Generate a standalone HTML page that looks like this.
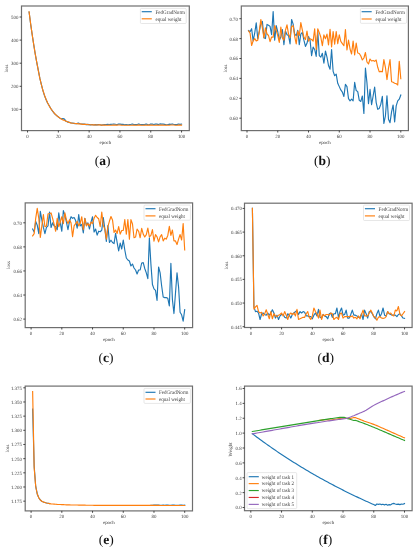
<!DOCTYPE html>
<html><head><meta charset="utf-8"><title>Figure</title>
<style>
html,body{margin:0;padding:0;background:#fff;width:417px;height:550px;overflow:hidden}
svg{display:block;text-rendering:geometricPrecision;filter:blur(0.3px)}
.cap{fill:#111}
</style></head><body>
<svg width="417" height="550" viewBox="0 0 417 550">
<rect width="417" height="550" fill="#fff"/>
<g font-family='"Liberation Serif", "DejaVu Serif", serif' fill="#3c3c3c">
<clipPath id="clipa"><rect x="21.5" y="6" width="167.8" height="124.6"/></clipPath>
<rect x="21.5" y="6" width="167.8" height="124.6" fill="none" stroke="#6e6e6e" stroke-width="1.2"/>
<line x1="19.6" y1="109.4" x2="21.5" y2="109.4" stroke="#333" stroke-width="0.9"/>
<text transform="translate(18.4,111.4) rotate(0.05) scale(0.1)" font-size="49" text-anchor="end">100</text>
<line x1="19.6" y1="86.3" x2="21.5" y2="86.3" stroke="#333" stroke-width="0.9"/>
<text transform="translate(18.4,88.3) rotate(0.05) scale(0.1)" font-size="49" text-anchor="end">200</text>
<line x1="19.6" y1="63.2" x2="21.5" y2="63.2" stroke="#333" stroke-width="0.9"/>
<text transform="translate(18.4,65.2) rotate(0.05) scale(0.1)" font-size="49" text-anchor="end">300</text>
<line x1="19.6" y1="40.1" x2="21.5" y2="40.1" stroke="#333" stroke-width="0.9"/>
<text transform="translate(18.4,42.1) rotate(0.05) scale(0.1)" font-size="49" text-anchor="end">400</text>
<line x1="19.6" y1="17" x2="21.5" y2="17" stroke="#333" stroke-width="0.9"/>
<text transform="translate(18.4,19) rotate(0.05) scale(0.1)" font-size="49" text-anchor="end">500</text>
<line x1="27.55" y1="130.6" x2="27.55" y2="132.5" stroke="#333" stroke-width="0.9"/>
<text transform="translate(27.55,137.81) rotate(0.05) scale(0.1)" font-size="49" text-anchor="middle">0</text>
<line x1="58.35" y1="130.6" x2="58.35" y2="132.5" stroke="#333" stroke-width="0.9"/>
<text transform="translate(58.35,137.81) rotate(0.05) scale(0.1)" font-size="49" text-anchor="middle">20</text>
<line x1="89.15" y1="130.6" x2="89.15" y2="132.5" stroke="#333" stroke-width="0.9"/>
<text transform="translate(89.15,137.81) rotate(0.05) scale(0.1)" font-size="49" text-anchor="middle">40</text>
<line x1="119.95" y1="130.6" x2="119.95" y2="132.5" stroke="#333" stroke-width="0.9"/>
<text transform="translate(119.95,137.81) rotate(0.05) scale(0.1)" font-size="49" text-anchor="middle">60</text>
<line x1="150.75" y1="130.6" x2="150.75" y2="132.5" stroke="#333" stroke-width="0.9"/>
<text transform="translate(150.75,137.81) rotate(0.05) scale(0.1)" font-size="49" text-anchor="middle">80</text>
<line x1="181.55" y1="130.6" x2="181.55" y2="132.5" stroke="#333" stroke-width="0.9"/>
<text transform="translate(181.55,137.81) rotate(0.05) scale(0.1)" font-size="49" text-anchor="middle">100</text>
<text transform="translate(105.4,143.8) rotate(0.05) scale(0.1)" font-size="49" text-anchor="middle">epoch</text>
<text x="0" y="0" font-size="49" text-anchor="middle" transform="translate(8.4,68.5) rotate(-89.95) scale(0.1)">loss</text>
<text x="102.7" y="165" font-size="13.5" text-anchor="middle" class="cap">(<tspan font-weight="bold">a</tspan>)</text>
<polyline points="29.09,12.04 30.63,24.02 32.17,34.48 33.71,44.49 35.25,54.01 36.79,62.61 38.33,70.37 39.87,78.47 41.41,84.57 42.95,90.63 44.49,95.63 46.03,99.42 47.57,102.97 49.11,105.46 50.65,108.21 52.19,110.61 53.73,112.77 55.27,114.37 56.81,115.69 58.35,116.86 59.89,118.17 61.43,118.85 62.97,118.62 64.51,119.14 66.05,121.35 67.59,122.09 69.13,122.17 70.67,122.81 72.21,123.05 73.75,123.32 75.29,123.68 76.83,123.65 78.37,122.98 79.91,123.7 81.45,124.02 82.99,124.1 84.53,124 86.07,124.59 87.61,124.4 89.15,124.62 90.69,124.93 92.23,124.55 93.77,124.97 95.31,124.59 96.85,124.93 98.39,124.67 99.93,124.73 101.47,125.07 103.01,124.78 104.55,124.56 106.09,124.51 107.63,124.33 109.17,124.53 110.71,124.41 112.25,124.29 113.79,124.19 115.33,124.25 116.87,124.72 118.41,124.11 119.95,124.1 121.49,124.43 123.03,124.23 124.57,124.71 126.11,124.63 127.65,124.72 129.19,124.64 130.73,124.46 132.27,124.03 133.81,124.64 135.35,124.47 136.89,124.66 138.43,123.94 139.97,124.36 141.51,124.68 143.05,124.54 144.59,124.63 146.13,123.97 147.67,124.64 149.21,124.74 150.75,123.95 152.29,124.18 153.83,124.46 155.37,124.12 156.91,124.11 158.45,124.58 159.99,123.94 161.53,124.09 163.07,124.15 164.61,124.33 166.15,124.74 167.69,124.53 169.23,124.19 170.77,124.39 172.31,123.94 173.85,124.46 175.39,124.57 176.93,124.59 178.47,124.01 180.01,124.36 181.55,124.1" fill="none" stroke="#1f77b4" stroke-width="1.15" stroke-linejoin="round" stroke-linecap="square" clip-path="url(#clipa)"/>
<polyline points="29.09,11.85 30.63,23.68 32.17,34.38 33.71,44.61 35.25,54.09 36.79,62.45 38.33,70.61 39.87,78.38 41.41,84.85 42.95,90.54 44.49,95.19 46.03,99.17 47.57,102.8 49.11,105.74 50.65,108.36 52.19,110.48 53.73,112.46 55.27,114.29 56.81,115.59 58.35,116.97 59.89,118.04 61.43,118.91 62.97,119.9 64.51,120.55 66.05,121.14 67.59,121.69 69.13,122.37 70.67,122.9 72.21,123.29 73.75,123.29 75.29,123.45 76.83,123.66 78.37,123.85 79.91,123.91 81.45,124.14 82.99,124.36 84.53,124.3 86.07,124.35 87.61,124.55 89.15,124.73 90.69,124.76 92.23,124.86 93.77,124.9 95.31,124.88 96.85,125.01 98.39,124.92 99.93,124.89 101.47,125.07 103.01,125.08 104.55,124.95 106.09,125.19 107.63,125.2 109.17,125.12 110.71,125.29 112.25,125.19 113.79,125.03 115.33,125.15 116.87,125.11 118.41,125.04 119.95,125.05 121.49,125.18 123.03,125.26 124.57,125.28 126.11,125.23 127.65,125.2 129.19,125.29 130.73,125.26 132.27,125.29 133.81,125.12 135.35,125.22 136.89,125.19 138.43,125.06 139.97,125.16 141.51,125.27 143.05,125.2 144.59,125.06 146.13,125.29 147.67,125.15 149.21,125.14 150.75,125.15 152.29,125.05 153.83,125.22 155.37,125.25 156.91,125.15 158.45,125.2 159.99,125.07 161.53,125.06 163.07,125.07 164.61,125.23 166.15,125.19 167.69,125.29 169.23,125.22 170.77,125.03 172.31,125.03 173.85,125.03 175.39,125.23 176.93,125.24 178.47,125.12 180.01,125.06 181.55,125.11" fill="none" stroke="#ff7f0e" stroke-width="1.15" stroke-linejoin="round" stroke-linecap="square" clip-path="url(#clipa)"/>
<rect x="140.4" y="8.4" width="45.8" height="15.1" rx="1" fill="#fff" fill-opacity="0.85" stroke="#d6d6d6" stroke-width="0.6"/>
<line x1="141.7" y1="11.7" x2="151.8" y2="11.7" stroke="#1f77b4" stroke-width="1.15"/>
<text transform="translate(155.5,13.5) rotate(0.05) scale(0.1)" font-size="54" text-anchor="start" textLength="295" lengthAdjust="spacingAndGlyphs">FedGradNorm</text>
<line x1="141.7" y1="18.8" x2="151.8" y2="18.8" stroke="#ff7f0e" stroke-width="1.15"/>
<text transform="translate(155.5,20.6) rotate(0.05) scale(0.1)" font-size="54" text-anchor="start" textLength="259" lengthAdjust="spacingAndGlyphs">equal weight</text>
<clipPath id="clipb"><rect x="241.3" y="6" width="167.1" height="124.6"/></clipPath>
<rect x="241.3" y="6" width="167.1" height="124.6" fill="none" stroke="#6e6e6e" stroke-width="1.2"/>
<line x1="239.4" y1="118.2" x2="241.3" y2="118.2" stroke="#333" stroke-width="0.9"/>
<text transform="translate(238,120.2) rotate(0.05) scale(0.1)" font-size="49" text-anchor="end">0.60</text>
<line x1="239.4" y1="98.3" x2="241.3" y2="98.3" stroke="#333" stroke-width="0.9"/>
<text transform="translate(238,100.3) rotate(0.05) scale(0.1)" font-size="49" text-anchor="end">0.62</text>
<line x1="239.4" y1="78.4" x2="241.3" y2="78.4" stroke="#333" stroke-width="0.9"/>
<text transform="translate(238,80.4) rotate(0.05) scale(0.1)" font-size="49" text-anchor="end">0.64</text>
<line x1="239.4" y1="58.5" x2="241.3" y2="58.5" stroke="#333" stroke-width="0.9"/>
<text transform="translate(238,60.5) rotate(0.05) scale(0.1)" font-size="49" text-anchor="end">0.66</text>
<line x1="239.4" y1="38.6" x2="241.3" y2="38.6" stroke="#333" stroke-width="0.9"/>
<text transform="translate(238,40.6) rotate(0.05) scale(0.1)" font-size="49" text-anchor="end">0.68</text>
<line x1="239.4" y1="18.7" x2="241.3" y2="18.7" stroke="#333" stroke-width="0.9"/>
<text transform="translate(238,20.7) rotate(0.05) scale(0.1)" font-size="49" text-anchor="end">0.70</text>
<line x1="247" y1="130.6" x2="247" y2="132.5" stroke="#333" stroke-width="0.9"/>
<text transform="translate(247,137.81) rotate(0.05) scale(0.1)" font-size="49" text-anchor="middle">0</text>
<line x1="277.76" y1="130.6" x2="277.76" y2="132.5" stroke="#333" stroke-width="0.9"/>
<text transform="translate(277.76,137.81) rotate(0.05) scale(0.1)" font-size="49" text-anchor="middle">20</text>
<line x1="308.52" y1="130.6" x2="308.52" y2="132.5" stroke="#333" stroke-width="0.9"/>
<text transform="translate(308.52,137.81) rotate(0.05) scale(0.1)" font-size="49" text-anchor="middle">40</text>
<line x1="339.28" y1="130.6" x2="339.28" y2="132.5" stroke="#333" stroke-width="0.9"/>
<text transform="translate(339.28,137.81) rotate(0.05) scale(0.1)" font-size="49" text-anchor="middle">60</text>
<line x1="370.04" y1="130.6" x2="370.04" y2="132.5" stroke="#333" stroke-width="0.9"/>
<text transform="translate(370.04,137.81) rotate(0.05) scale(0.1)" font-size="49" text-anchor="middle">80</text>
<line x1="400.8" y1="130.6" x2="400.8" y2="132.5" stroke="#333" stroke-width="0.9"/>
<text transform="translate(400.8,137.81) rotate(0.05) scale(0.1)" font-size="49" text-anchor="middle">100</text>
<text transform="translate(324.85,143.8) rotate(0.05) scale(0.1)" font-size="49" text-anchor="middle">epoch</text>
<text x="0" y="0" font-size="49" text-anchor="middle" transform="translate(227.3,68.4) rotate(-89.95) scale(0.1)">loss</text>
<text x="322.3" y="165" font-size="13.5" text-anchor="middle" class="cap">(<tspan font-weight="bold">b</tspan>)</text>
<polyline points="248.54,30.55 250.08,31.7 251.61,28.64 253.15,40.87 254.69,33.23 256.23,22.91 257.77,38.58 259.3,31.7 260.84,23.29 262.38,21.38 263.92,37.82 265.46,38.58 266.99,24.44 268.53,25.2 270.07,26.35 271.61,34.76 273.15,11.5 274.68,40.17 276.22,25.64 277.76,31.76 279.3,40.17 280.84,37.11 282.37,29.46 283.91,44.76 285.45,30.99 286.99,34.82 288.53,35.58 290.06,43.99 291.6,19.53 293.14,24.11 294.68,34.05 296.22,35.58 297.75,30.23 299.29,44.76 300.83,34.05 302.37,32.52 303.91,40.17 305.44,46.41 306.98,43.35 308.52,36.47 310.06,40.29 311.6,55.58 313.13,47.17 314.67,49.46 316.21,56.35 317.75,31.12 319.29,55.58 320.82,57.11 322.36,53.29 323.9,63.23 325.44,50.99 326.98,57.11 328.51,65.52 330.05,69.18 331.59,49.5 333.13,71.36 334.67,75.72 336.2,74.08 337.74,83.35 339.28,86.62 340.82,89.9 342.36,92.08 343.89,96.44 345.43,84.44 346.97,86.62 348.51,98.62 350.05,100.8 351.58,99.17 353.12,100.8 354.66,82.36 356.2,90.53 357.74,91.62 359.27,100.35 360.81,101.44 362.35,95.99 363.89,113.44 365.43,68.18 366.96,82.9 368.5,103.62 370.04,89.44 371.58,104.71 373.12,95.99 374.65,87 376.19,102.6 377.73,109.3 379.27,108.4 380.81,104.2 382.34,96.3 383.88,123.5 385.42,116 386.96,95.8 388.5,119.3 390.03,122.7 391.57,111.8 393.11,105 394.65,121.9 396.19,105.9 397.72,100.9 399.26,99.2 400.8,95" fill="none" stroke="#1f77b4" stroke-width="1.15" stroke-linejoin="round" stroke-linecap="square" clip-path="url(#clipb)"/>
<polyline points="248.54,30.94 250.08,33.23 251.61,45.46 253.15,40.87 254.69,38.58 256.23,40.87 257.77,40.11 259.3,30.94 260.84,19.47 262.38,27.88 263.92,37.82 265.46,27.88 266.99,33.99 268.53,35.52 270.07,41.64 271.61,37.05 273.15,37.11 274.68,25.64 276.22,30.23 277.76,35.58 279.3,42.46 280.84,27.17 282.37,37.87 283.91,40.17 285.45,30.23 286.99,24.88 288.53,34.05 290.06,37.87 291.6,26.41 293.14,25.64 294.68,36.35 296.22,43.99 297.75,30.99 299.29,35.58 300.83,22.58 302.37,30.23 303.91,37.11 305.44,39.53 306.98,31.12 308.52,41.06 310.06,38.76 311.6,39.53 313.13,41.06 314.67,28.82 316.21,49.46 317.75,28.82 319.29,32.65 320.82,37.23 322.36,45.64 323.9,34.94 325.44,38.76 326.98,34.17 328.51,44.88 330.05,29.37 331.59,46.83 333.13,31.55 334.67,44.1 336.2,31.55 337.74,43.56 339.28,34.83 340.82,41.38 342.36,43.56 343.89,45.74 345.43,29.5 346.97,50 348.51,40 350.05,49 351.58,54 353.12,41 354.66,55 356.2,43 357.74,53 359.27,53.5 360.81,56 362.35,60 363.89,58 365.43,52.5 366.96,62 368.5,64 370.04,59 371.58,61 373.12,60.5 374.65,61.36 376.19,60 377.73,67.27 379.27,71.82 380.81,71.36 382.34,71.82 383.88,59.55 385.42,67.27 386.96,79.55 388.5,68.18 390.03,59.55 391.57,81.82 393.11,82.27 394.65,83.18 396.19,83.64 397.72,85 399.26,61.36 400.8,78.64" fill="none" stroke="#ff7f0e" stroke-width="1.15" stroke-linejoin="round" stroke-linecap="square" clip-path="url(#clipb)"/>
<rect x="360.4" y="8.4" width="46.2" height="14.9" rx="1" fill="#fff" fill-opacity="0.85" stroke="#d6d6d6" stroke-width="0.6"/>
<line x1="361.6" y1="11.7" x2="371.7" y2="11.7" stroke="#1f77b4" stroke-width="1.15"/>
<text transform="translate(375.4,13.5) rotate(0.05) scale(0.1)" font-size="54" text-anchor="start" textLength="295" lengthAdjust="spacingAndGlyphs">FedGradNorm</text>
<line x1="361.6" y1="19" x2="371.7" y2="19" stroke="#ff7f0e" stroke-width="1.15"/>
<text transform="translate(375.4,20.8) rotate(0.05) scale(0.1)" font-size="54" text-anchor="start" textLength="259" lengthAdjust="spacingAndGlyphs">equal weight</text>
<clipPath id="clipc"><rect x="25.2" y="202.9" width="167.4" height="124.7"/></clipPath>
<rect x="25.2" y="202.9" width="167.4" height="124.7" fill="none" stroke="#6e6e6e" stroke-width="1.2"/>
<line x1="23.3" y1="222.8" x2="25.2" y2="222.8" stroke="#333" stroke-width="0.9"/>
<text transform="translate(22,224.8) rotate(0.05) scale(0.1)" font-size="49" text-anchor="end">0.70</text>
<line x1="23.3" y1="246.88" x2="25.2" y2="246.88" stroke="#333" stroke-width="0.9"/>
<text transform="translate(22,248.88) rotate(0.05) scale(0.1)" font-size="49" text-anchor="end">0.68</text>
<line x1="23.3" y1="270.95" x2="25.2" y2="270.95" stroke="#333" stroke-width="0.9"/>
<text transform="translate(22,272.95) rotate(0.05) scale(0.1)" font-size="49" text-anchor="end">0.66</text>
<line x1="23.3" y1="295.02" x2="25.2" y2="295.02" stroke="#333" stroke-width="0.9"/>
<text transform="translate(22,297.02) rotate(0.05) scale(0.1)" font-size="49" text-anchor="end">0.64</text>
<line x1="23.3" y1="319.1" x2="25.2" y2="319.1" stroke="#333" stroke-width="0.9"/>
<text transform="translate(22,321.1) rotate(0.05) scale(0.1)" font-size="49" text-anchor="end">0.62</text>
<line x1="31.1" y1="327.6" x2="31.1" y2="329.5" stroke="#333" stroke-width="0.9"/>
<text transform="translate(31.1,334.81) rotate(0.05) scale(0.1)" font-size="49" text-anchor="middle">0</text>
<line x1="61.82" y1="327.6" x2="61.82" y2="329.5" stroke="#333" stroke-width="0.9"/>
<text transform="translate(61.82,334.81) rotate(0.05) scale(0.1)" font-size="49" text-anchor="middle">20</text>
<line x1="92.54" y1="327.6" x2="92.54" y2="329.5" stroke="#333" stroke-width="0.9"/>
<text transform="translate(92.54,334.81) rotate(0.05) scale(0.1)" font-size="49" text-anchor="middle">40</text>
<line x1="123.26" y1="327.6" x2="123.26" y2="329.5" stroke="#333" stroke-width="0.9"/>
<text transform="translate(123.26,334.81) rotate(0.05) scale(0.1)" font-size="49" text-anchor="middle">60</text>
<line x1="153.98" y1="327.6" x2="153.98" y2="329.5" stroke="#333" stroke-width="0.9"/>
<text transform="translate(153.98,334.81) rotate(0.05) scale(0.1)" font-size="49" text-anchor="middle">80</text>
<line x1="184.7" y1="327.6" x2="184.7" y2="329.5" stroke="#333" stroke-width="0.9"/>
<text transform="translate(184.7,334.81) rotate(0.05) scale(0.1)" font-size="49" text-anchor="middle">100</text>
<text transform="translate(108.9,340.8) rotate(0.05) scale(0.1)" font-size="49" text-anchor="middle">epoch</text>
<text x="0" y="0" font-size="49" text-anchor="middle" transform="translate(10.3,265) rotate(-89.95) scale(0.1)">loss</text>
<text x="106.1" y="361.8" font-size="13.5" text-anchor="middle" class="cap">(<tspan font-weight="bold">c</tspan>)</text>
<polyline points="32.64,228.99 34.17,232.05 35.71,221.35 37.24,225.17 38.78,233.58 40.32,211.41 41.85,219.82 43.39,227.46 44.92,233.58 46.46,227.46 48,225.94 49.53,212.17 51.07,227.46 52.6,222.88 54.14,225.94 55.68,226.7 57.21,229.76 58.75,212.94 60.28,222.88 61.82,231.29 63.36,210.65 64.89,215.23 66.43,222.11 67.96,229.76 69.5,221.35 71.04,216.76 72.57,218.29 74.11,217.53 75.64,220.58 77.18,228.23 78.72,214.47 80.25,225.94 81.79,224.41 83.32,232.82 84.86,218.29 86.4,225.17 87.93,222.88 89.47,228.99 91,222.11 92.54,216.76 94.08,232.05 95.61,228.99 97.15,235.11 98.68,231.18 100.22,231.75 101.76,230.06 103.29,217.66 104.83,228.93 106.36,241.33 107.9,225.55 109.44,242.46 110.97,240.2 112.51,242.46 114.04,243.59 115.58,233.44 117.12,242.46 118.65,251 120.19,243 121.72,249 123.26,240 124.8,250 126.33,258 127.87,260 129.4,261 130.94,266 132.48,264 134.01,268 135.55,270 137.08,274 138.62,270 140.16,270 141.69,263 143.23,262.66 144.76,268.48 146.3,272.85 147.84,278.67 149.37,237.91 150.91,264.11 152.44,284.49 153.98,288.86 155.52,290.31 157.05,300.5 158.59,267.02 160.12,272.85 161.66,285.95 163.2,297 164.73,297.64 166.27,297.64 167.8,298.27 169.34,305.91 170.88,263.27 172.41,299.55 173.95,313.55 175.48,293.18 177.02,272.82 178.56,286.82 180.09,312.27 181.63,314.82 183.16,321.18 184.7,309.73" fill="none" stroke="#1f77b4" stroke-width="1.15" stroke-linejoin="round" stroke-linecap="square" clip-path="url(#clipc)"/>
<polyline points="32.64,235.87 34.17,233.58 35.71,218.29 37.24,208.35 38.78,218.29 40.32,237.4 41.85,225.94 43.39,214.47 44.92,226.7 46.46,225.94 48,213.7 49.53,213.7 51.07,212.94 52.6,218.29 54.14,224.41 55.68,231.29 57.21,218.29 58.75,226.7 60.28,222.11 61.82,216.76 63.36,223.64 64.89,212.94 66.43,219.82 67.96,223.64 69.5,219.82 71.04,222.88 72.57,236.64 74.11,225.94 75.64,223.64 77.18,221.35 78.72,225.94 80.25,222.88 81.79,216.76 83.32,229.76 84.86,218.29 86.4,225.94 87.93,223.64 89.47,225.94 91,222.11 92.54,223.64 94.08,218.29 95.61,215.23 97.15,217.53 98.68,218.78 100.22,226.68 101.76,212.02 103.29,225.55 104.83,228.93 106.36,239.08 107.9,226.68 109.44,221.04 110.97,216.53 112.51,219.91 114.04,232.31 115.58,230.06 117.12,233.44 118.65,226.68 120.19,234.13 121.72,230.49 123.26,230.49 124.8,219.57 126.33,234.13 127.87,219.57 129.4,239.23 130.94,219.57 132.48,223.94 134.01,237.77 135.55,237.05 137.08,229.03 138.62,231.22 140.16,237.77 141.69,228.31 143.23,234.13 144.76,237.05 146.3,234.66 147.84,228.11 149.37,236.85 150.91,235.39 152.44,229.57 153.98,241.22 155.52,234.66 157.05,236.85 158.59,241.95 160.12,236.85 161.66,234.66 163.2,240.91 164.73,238.18 166.27,239.09 167.8,235.45 169.34,226.36 170.88,235.45 172.41,230 173.95,240.91 175.48,240.91 177.02,244.55 178.56,239.09 180.09,234.55 181.63,240 183.16,223.64 184.7,250" fill="none" stroke="#ff7f0e" stroke-width="1.15" stroke-linejoin="round" stroke-linecap="square" clip-path="url(#clipc)"/>
<rect x="144" y="205.1" width="46.4" height="15.1" rx="1" fill="#fff" fill-opacity="0.85" stroke="#d6d6d6" stroke-width="0.6"/>
<line x1="145.5" y1="208.7" x2="155.5" y2="208.7" stroke="#1f77b4" stroke-width="1.15"/>
<text transform="translate(159,210.5) rotate(0.05) scale(0.1)" font-size="54" text-anchor="start" textLength="295" lengthAdjust="spacingAndGlyphs">FedGradNorm</text>
<line x1="145.5" y1="215.9" x2="155.5" y2="215.9" stroke="#ff7f0e" stroke-width="1.15"/>
<text transform="translate(159,217.7) rotate(0.05) scale(0.1)" font-size="54" text-anchor="start" textLength="259" lengthAdjust="spacingAndGlyphs">equal weight</text>
<clipPath id="clipd"><rect x="244.5" y="203.2" width="167.6" height="124.3"/></clipPath>
<rect x="244.5" y="203.2" width="167.6" height="124.3" fill="none" stroke="#6e6e6e" stroke-width="1.2"/>
<line x1="242.6" y1="208.45" x2="244.5" y2="208.45" stroke="#333" stroke-width="0.9"/>
<text transform="translate(241.9,210.45) rotate(0.05) scale(0.1)" font-size="49" text-anchor="end">0.470</text>
<line x1="242.6" y1="232.1" x2="244.5" y2="232.1" stroke="#333" stroke-width="0.9"/>
<text transform="translate(241.9,234.1) rotate(0.05) scale(0.1)" font-size="49" text-anchor="end">0.465</text>
<line x1="242.6" y1="255.75" x2="244.5" y2="255.75" stroke="#333" stroke-width="0.9"/>
<text transform="translate(241.9,257.75) rotate(0.05) scale(0.1)" font-size="49" text-anchor="end">0.460</text>
<line x1="242.6" y1="279.4" x2="244.5" y2="279.4" stroke="#333" stroke-width="0.9"/>
<text transform="translate(241.9,281.4) rotate(0.05) scale(0.1)" font-size="49" text-anchor="end">0.455</text>
<line x1="242.6" y1="303.05" x2="244.5" y2="303.05" stroke="#333" stroke-width="0.9"/>
<text transform="translate(241.9,305.05) rotate(0.05) scale(0.1)" font-size="49" text-anchor="end">0.450</text>
<line x1="242.6" y1="326.7" x2="244.5" y2="326.7" stroke="#333" stroke-width="0.9"/>
<text transform="translate(241.9,328.7) rotate(0.05) scale(0.1)" font-size="49" text-anchor="end">0.445</text>
<line x1="250.86" y1="327.5" x2="250.86" y2="329.4" stroke="#333" stroke-width="0.9"/>
<text transform="translate(250.86,334.71) rotate(0.05) scale(0.1)" font-size="49" text-anchor="middle">0</text>
<line x1="281.6" y1="327.5" x2="281.6" y2="329.4" stroke="#333" stroke-width="0.9"/>
<text transform="translate(281.6,334.71) rotate(0.05) scale(0.1)" font-size="49" text-anchor="middle">20</text>
<line x1="312.34" y1="327.5" x2="312.34" y2="329.4" stroke="#333" stroke-width="0.9"/>
<text transform="translate(312.34,334.71) rotate(0.05) scale(0.1)" font-size="49" text-anchor="middle">40</text>
<line x1="343.08" y1="327.5" x2="343.08" y2="329.4" stroke="#333" stroke-width="0.9"/>
<text transform="translate(343.08,334.71) rotate(0.05) scale(0.1)" font-size="49" text-anchor="middle">60</text>
<line x1="373.82" y1="327.5" x2="373.82" y2="329.4" stroke="#333" stroke-width="0.9"/>
<text transform="translate(373.82,334.71) rotate(0.05) scale(0.1)" font-size="49" text-anchor="middle">80</text>
<line x1="404.56" y1="327.5" x2="404.56" y2="329.4" stroke="#333" stroke-width="0.9"/>
<text transform="translate(404.56,334.71) rotate(0.05) scale(0.1)" font-size="49" text-anchor="middle">100</text>
<text transform="translate(328.3,340.7) rotate(0.05) scale(0.1)" font-size="49" text-anchor="middle">epoch</text>
<text x="0" y="0" font-size="49" text-anchor="middle" transform="translate(228.2,265.4) rotate(-89.95) scale(0.1)">loss</text>
<text x="325.8" y="361.8" font-size="13.5" text-anchor="middle" class="cap">(<tspan font-weight="bold">d</tspan>)</text>
<polyline points="252.4,208.4 253.93,306.91 255.47,311.58 257.01,311.22 258.55,313.02 260.08,319.5 261.62,313.74 263.16,313.02 264.69,314.46 266.23,315.18 267.77,313.02 269.3,315.18 270.84,313.02 272.38,309.78 273.92,313.02 275.45,318.06 276.99,315.18 278.53,319.5 280.06,315.9 281.6,314.46 283.14,314.46 284.67,317.34 286.21,318.06 287.75,313.74 289.29,315.18 290.82,318.06 292.36,314.46 293.9,313.02 295.43,311.58 296.97,310.86 298.51,314.46 300.04,311.58 301.58,313.02 303.12,311.58 304.66,312.3 306.19,315.9 307.73,315.9 309.27,316.62 310.8,316.62 312.34,318.78 313.88,315.18 315.41,313.02 316.95,315.9 318.49,309.42 320.02,317.34 321.56,318.06 323.1,314.46 324.64,315.9 326.17,316.62 327.71,318.78 329.25,313.74 330.78,313.02 332.32,317.34 333.86,313.74 335.39,313.74 336.93,307.99 338.47,317.34 340.01,311.58 341.54,307.99 343.08,315.18 344.62,314.46 346.15,310.14 347.69,318.06 349.23,318.06 350.76,314.46 352.3,310.14 353.84,315.18 355.38,315.18 356.91,315.9 358.45,317.34 359.99,317.34 361.52,313.74 363.06,319.5 364.6,310.14 366.13,313.74 367.67,318.06 369.21,311.58 370.75,311.58 372.28,313.74 373.82,316.62 375.36,318.78 376.89,313.74 378.43,310.14 379.97,316.62 381.5,313.74 383.04,307.99 384.58,315.18 386.12,315.9 387.65,311.58 389.19,313.74 390.73,314.46 392.26,315.18 393.8,315.18 395.34,315.18 396.88,316.62 398.41,314.46 399.95,313.74 401.49,315.9 403.02,318.06 404.56,318.42" fill="none" stroke="#1f77b4" stroke-width="1.15" stroke-linejoin="round" stroke-linecap="square" clip-path="url(#clipd)"/>
<polyline points="252.4,208.4 253.93,309.06 255.47,306.91 257.01,305.47 258.55,311.58 260.08,313.02 261.62,312.3 263.16,315.9 264.69,313.74 266.23,309.78 267.77,314.46 269.3,318.78 270.84,311.58 272.38,318.78 273.92,313.74 275.45,315.9 276.99,316.62 278.53,315.18 280.06,314.46 281.6,313.02 283.14,315.9 284.67,311.58 286.21,315.18 287.75,319.5 289.29,314.46 290.82,313.02 292.36,314.46 293.9,313.02 295.43,315.9 296.97,309.42 298.51,319.5 300.04,318.78 301.58,318.06 303.12,317.34 304.66,317.34 306.19,313.74 307.73,311.58 309.27,317.34 310.8,319.5 312.34,315.9 313.88,307.99 315.41,311.58 316.95,313.74 318.49,318.06 320.02,310.14 321.56,319.5 323.1,314.46 324.64,315.9 326.17,314.46 327.71,314.46 329.25,315.18 330.78,313.02 332.32,313.74 333.86,319.5 335.39,318.06 336.93,317.34 338.47,319.5 340.01,313.74 341.54,313.02 343.08,318.06 344.62,316.62 346.15,316.62 347.69,316.62 349.23,316.62 350.76,316.62 352.3,315.9 353.84,318.06 355.38,317.34 356.91,318.78 358.45,315.9 359.99,318.78 361.52,314.46 363.06,310.14 364.6,315.9 366.13,315.9 367.67,315.9 369.21,313.02 370.75,310.14 372.28,313.02 373.82,316.62 375.36,317.34 376.89,320.22 378.43,317.34 379.97,316.62 381.5,318.06 383.04,318.42 384.58,318.06 386.12,316.62 387.65,311.58 389.19,313.74 390.73,313.02 392.26,315.18 393.8,315.9 395.34,310.14 396.88,310.86 398.41,306.55 399.95,314.46 401.49,315.9 403.02,313.74 404.56,311.58" fill="none" stroke="#ff7f0e" stroke-width="1.15" stroke-linejoin="round" stroke-linecap="square" clip-path="url(#clipd)"/>
<rect x="363.5" y="205.1" width="46" height="15.4" rx="1" fill="#fff" fill-opacity="0.85" stroke="#d6d6d6" stroke-width="0.6"/>
<line x1="364.9" y1="208.7" x2="375" y2="208.7" stroke="#1f77b4" stroke-width="1.15"/>
<text transform="translate(378.6,210.5) rotate(0.05) scale(0.1)" font-size="54" text-anchor="start" textLength="295" lengthAdjust="spacingAndGlyphs">FedGradNorm</text>
<line x1="364.9" y1="215.9" x2="375" y2="215.9" stroke="#ff7f0e" stroke-width="1.15"/>
<text transform="translate(378.6,217.7) rotate(0.05) scale(0.1)" font-size="54" text-anchor="start" textLength="259" lengthAdjust="spacingAndGlyphs">equal weight</text>
<clipPath id="clipe"><rect x="25.2" y="386.1" width="167.3" height="124.8"/></clipPath>
<rect x="25.2" y="386.1" width="167.3" height="124.8" fill="none" stroke="#6e6e6e" stroke-width="1.2"/>
<line x1="23.3" y1="387.8" x2="25.2" y2="387.8" stroke="#333" stroke-width="0.9"/>
<text transform="translate(21.9,389.8) rotate(0.05) scale(0.1)" font-size="49" text-anchor="end">1.375</text>
<line x1="23.3" y1="401.97" x2="25.2" y2="401.97" stroke="#333" stroke-width="0.9"/>
<text transform="translate(21.9,403.97) rotate(0.05) scale(0.1)" font-size="49" text-anchor="end">1.350</text>
<line x1="23.3" y1="416.14" x2="25.2" y2="416.14" stroke="#333" stroke-width="0.9"/>
<text transform="translate(21.9,418.14) rotate(0.05) scale(0.1)" font-size="49" text-anchor="end">1.325</text>
<line x1="23.3" y1="430.31" x2="25.2" y2="430.31" stroke="#333" stroke-width="0.9"/>
<text transform="translate(21.9,432.31) rotate(0.05) scale(0.1)" font-size="49" text-anchor="end">1.300</text>
<line x1="23.3" y1="444.48" x2="25.2" y2="444.48" stroke="#333" stroke-width="0.9"/>
<text transform="translate(21.9,446.48) rotate(0.05) scale(0.1)" font-size="49" text-anchor="end">1.275</text>
<line x1="23.3" y1="458.65" x2="25.2" y2="458.65" stroke="#333" stroke-width="0.9"/>
<text transform="translate(21.9,460.65) rotate(0.05) scale(0.1)" font-size="49" text-anchor="end">1.250</text>
<line x1="23.3" y1="472.82" x2="25.2" y2="472.82" stroke="#333" stroke-width="0.9"/>
<text transform="translate(21.9,474.82) rotate(0.05) scale(0.1)" font-size="49" text-anchor="end">1.225</text>
<line x1="23.3" y1="486.99" x2="25.2" y2="486.99" stroke="#333" stroke-width="0.9"/>
<text transform="translate(21.9,488.99) rotate(0.05) scale(0.1)" font-size="49" text-anchor="end">1.200</text>
<line x1="23.3" y1="501.16" x2="25.2" y2="501.16" stroke="#333" stroke-width="0.9"/>
<text transform="translate(21.9,503.16) rotate(0.05) scale(0.1)" font-size="49" text-anchor="end">1.175</text>
<line x1="31.1" y1="510.9" x2="31.1" y2="512.8" stroke="#333" stroke-width="0.9"/>
<text transform="translate(31.1,518.12) rotate(0.05) scale(0.1)" font-size="49" text-anchor="middle">0</text>
<line x1="61.82" y1="510.9" x2="61.82" y2="512.8" stroke="#333" stroke-width="0.9"/>
<text transform="translate(61.82,518.12) rotate(0.05) scale(0.1)" font-size="49" text-anchor="middle">20</text>
<line x1="92.54" y1="510.9" x2="92.54" y2="512.8" stroke="#333" stroke-width="0.9"/>
<text transform="translate(92.54,518.12) rotate(0.05) scale(0.1)" font-size="49" text-anchor="middle">40</text>
<line x1="123.26" y1="510.9" x2="123.26" y2="512.8" stroke="#333" stroke-width="0.9"/>
<text transform="translate(123.26,518.12) rotate(0.05) scale(0.1)" font-size="49" text-anchor="middle">60</text>
<line x1="153.98" y1="510.9" x2="153.98" y2="512.8" stroke="#333" stroke-width="0.9"/>
<text transform="translate(153.98,518.12) rotate(0.05) scale(0.1)" font-size="49" text-anchor="middle">80</text>
<line x1="184.7" y1="510.9" x2="184.7" y2="512.8" stroke="#333" stroke-width="0.9"/>
<text transform="translate(184.7,518.12) rotate(0.05) scale(0.1)" font-size="49" text-anchor="middle">100</text>
<text transform="translate(108.85,524.1) rotate(0.05) scale(0.1)" font-size="49" text-anchor="middle">epoch</text>
<text x="0" y="0" font-size="49" text-anchor="middle" transform="translate(8.7,448.4) rotate(-89.95) scale(0.1)">loss</text>
<text x="106.2" y="544.3" font-size="13.5" text-anchor="middle" class="cap">(<tspan font-weight="bold">e</tspan>)</text>
<polyline points="32.64,409 34.17,466 35.71,486.45 37.24,493.95 38.78,497.75 40.32,499.95 41.85,501.25 43.39,502.05 44.92,502.5 46.46,502.95 48,503.25 49.53,503.55" fill="none" stroke="#1f77b4" stroke-width="1.15" stroke-linejoin="round" stroke-linecap="square" clip-path="url(#clipe)"/>
<polyline points="150.91,505.38 152.44,505.3 153.98,505.14 155.52,505.06 157.05,505.11 158.59,505.12 160.12,505.2 161.66,505.3 163.2,505.12 164.73,505.26 166.27,505.12 167.8,505.07 169.34,505.25 170.88,505.25 172.41,505.09 173.95,505.16 175.48,505.33 177.02,505.35 178.56,505.34 180.09,505.12 181.63,505.15 183.16,505.35 184.7,505.15" fill="none" stroke="#1f77b4" stroke-width="1.15" stroke-linejoin="round" stroke-linecap="square" clip-path="url(#clipe)"/>
<polyline points="32.64,391.6 34.17,468 35.71,486.5 37.24,494 38.78,497.8 40.32,500 41.85,501.3 43.39,502.1 44.92,502.55 46.46,503 48,503.3 49.53,503.6 51.07,503.9 52.6,504.02 54.14,504.15 55.68,504.27 57.21,504.4 58.75,504.47 60.28,504.54 61.82,504.61 63.36,504.69 64.89,504.76 66.43,504.83 67.96,504.9 69.5,504.93 71.04,504.95 72.57,504.98 74.11,505 75.64,505.02 77.18,505.05 78.72,505.07 80.25,505.1 81.79,505.12 83.32,505.15 84.86,505.18 86.4,505.2 87.93,505.23 89.47,505.25 91,505.27 92.54,505.3 94.08,505.3 95.61,505.31 97.15,505.31 98.68,505.31 100.22,505.32 101.76,505.32 103.29,505.32 104.83,505.33 106.36,505.33 107.9,505.33 109.44,505.34 110.97,505.34 112.51,505.34 114.04,505.35 115.58,505.35 117.12,505.35 118.65,505.36 120.19,505.36 121.72,505.36 123.26,505.37 124.8,505.37 126.33,505.37 127.87,505.38 129.4,505.38 130.94,505.38 132.48,505.39 134.01,505.39 135.55,505.39 137.08,505.4 138.62,505.4 140.16,505.4 141.69,505.41 143.23,505.41 144.76,505.41 146.3,505.42 147.84,505.42 149.37,505.42 150.91,505.43 152.44,505.43 153.98,505.43 155.52,505.44 157.05,505.44 158.59,505.44 160.12,505.45 161.66,505.45 163.2,505.45 164.73,505.46 166.27,505.46 167.8,505.46 169.34,505.47 170.88,505.47 172.41,505.47 173.95,505.48 175.48,505.48 177.02,505.48 178.56,505.49 180.09,505.49 181.63,505.49 183.16,505.5 184.7,505.5" fill="none" stroke="#ff7f0e" stroke-width="1.15" stroke-linejoin="round" stroke-linecap="square" clip-path="url(#clipe)"/>
<rect x="144" y="388.4" width="46.4" height="15" rx="1" fill="#fff" fill-opacity="0.85" stroke="#d6d6d6" stroke-width="0.6"/>
<line x1="145.5" y1="392.3" x2="155.5" y2="392.3" stroke="#1f77b4" stroke-width="1.15"/>
<text transform="translate(159,394.1) rotate(0.05) scale(0.1)" font-size="54" text-anchor="start" textLength="295" lengthAdjust="spacingAndGlyphs">FedGradNorm</text>
<line x1="145.5" y1="399" x2="155.5" y2="399" stroke="#ff7f0e" stroke-width="1.15"/>
<text transform="translate(159,400.8) rotate(0.05) scale(0.1)" font-size="54" text-anchor="start" textLength="259" lengthAdjust="spacingAndGlyphs">equal weight</text>
<clipPath id="clipf"><rect x="244.5" y="386.1" width="167.6" height="124.6"/></clipPath>
<rect x="244.5" y="386.1" width="167.6" height="124.6" fill="none" stroke="#6e6e6e" stroke-width="1.2"/>
<line x1="242.6" y1="388.5" x2="244.5" y2="388.5" stroke="#333" stroke-width="0.9"/>
<text transform="translate(241.6,390.5) rotate(0.05) scale(0.1)" font-size="49" text-anchor="end">1.6</text>
<line x1="242.6" y1="403.38" x2="244.5" y2="403.38" stroke="#333" stroke-width="0.9"/>
<text transform="translate(241.6,405.38) rotate(0.05) scale(0.1)" font-size="49" text-anchor="end">1.4</text>
<line x1="242.6" y1="418.25" x2="244.5" y2="418.25" stroke="#333" stroke-width="0.9"/>
<text transform="translate(241.6,420.25) rotate(0.05) scale(0.1)" font-size="49" text-anchor="end">1.2</text>
<line x1="242.6" y1="433.12" x2="244.5" y2="433.12" stroke="#333" stroke-width="0.9"/>
<text transform="translate(241.6,435.12) rotate(0.05) scale(0.1)" font-size="49" text-anchor="end">1.0</text>
<line x1="242.6" y1="448" x2="244.5" y2="448" stroke="#333" stroke-width="0.9"/>
<text transform="translate(241.6,450) rotate(0.05) scale(0.1)" font-size="49" text-anchor="end">0.8</text>
<line x1="242.6" y1="462.88" x2="244.5" y2="462.88" stroke="#333" stroke-width="0.9"/>
<text transform="translate(241.6,464.88) rotate(0.05) scale(0.1)" font-size="49" text-anchor="end">0.6</text>
<line x1="242.6" y1="477.75" x2="244.5" y2="477.75" stroke="#333" stroke-width="0.9"/>
<text transform="translate(241.6,479.75) rotate(0.05) scale(0.1)" font-size="49" text-anchor="end">0.4</text>
<line x1="242.6" y1="492.62" x2="244.5" y2="492.62" stroke="#333" stroke-width="0.9"/>
<text transform="translate(241.6,494.62) rotate(0.05) scale(0.1)" font-size="49" text-anchor="end">0.2</text>
<line x1="242.6" y1="507.5" x2="244.5" y2="507.5" stroke="#333" stroke-width="0.9"/>
<text transform="translate(241.6,509.5) rotate(0.05) scale(0.1)" font-size="49" text-anchor="end">0.0</text>
<line x1="250.8" y1="510.7" x2="250.8" y2="512.6" stroke="#333" stroke-width="0.9"/>
<text transform="translate(250.8,517.92) rotate(0.05) scale(0.1)" font-size="49" text-anchor="middle">0</text>
<line x1="281.54" y1="510.7" x2="281.54" y2="512.6" stroke="#333" stroke-width="0.9"/>
<text transform="translate(281.54,517.92) rotate(0.05) scale(0.1)" font-size="49" text-anchor="middle">20</text>
<line x1="312.28" y1="510.7" x2="312.28" y2="512.6" stroke="#333" stroke-width="0.9"/>
<text transform="translate(312.28,517.92) rotate(0.05) scale(0.1)" font-size="49" text-anchor="middle">40</text>
<line x1="343.02" y1="510.7" x2="343.02" y2="512.6" stroke="#333" stroke-width="0.9"/>
<text transform="translate(343.02,517.92) rotate(0.05) scale(0.1)" font-size="49" text-anchor="middle">60</text>
<line x1="373.76" y1="510.7" x2="373.76" y2="512.6" stroke="#333" stroke-width="0.9"/>
<text transform="translate(373.76,517.92) rotate(0.05) scale(0.1)" font-size="49" text-anchor="middle">80</text>
<line x1="404.5" y1="510.7" x2="404.5" y2="512.6" stroke="#333" stroke-width="0.9"/>
<text transform="translate(404.5,517.92) rotate(0.05) scale(0.1)" font-size="49" text-anchor="middle">100</text>
<text transform="translate(328.3,523.9) rotate(0.05) scale(0.1)" font-size="49" text-anchor="middle">epoch</text>
<text x="0" y="0" font-size="49" text-anchor="middle" transform="translate(231.6,449.5) rotate(-89.95) scale(0.1)">Weight</text>
<text x="325.5" y="544.3" font-size="13.5" text-anchor="middle" class="cap">(<tspan font-weight="bold">f</tspan>)</text>
<polyline points="252.34,433.73 253.87,434.89 255.41,436.04 256.95,437.18 258.49,438.32 260.02,439.45 261.56,440.57 263.1,441.68 264.63,442.79 266.17,443.88 267.71,444.97 269.24,446.06 270.78,447.13 272.32,448.2 273.86,449.26 275.39,450.31 276.93,451.36 278.47,452.4 280,453.43 281.54,454.45 283.08,455.47 284.61,456.48 286.15,457.48 287.69,458.48 289.23,459.47 290.76,460.45 292.3,461.43 293.84,462.39 295.37,463.36 296.91,464.31 298.45,465.26 299.98,466.21 301.52,467.14 303.06,468.07 304.6,468.99 306.13,469.91 307.67,470.82 309.21,471.73 310.74,472.63 312.28,473.52 313.82,474.4 315.35,475.28 316.89,476.16 318.43,477.02 319.97,477.89 321.5,478.74 323.04,479.59 324.58,480.44 326.11,481.27 327.65,482.11 329.19,482.93 330.72,483.76 332.26,484.57 333.8,485.38 335.34,486.19 336.87,486.98 338.41,487.78 339.95,488.56 341.48,489.35 343.02,490.12 344.56,490.9 346.09,491.66 347.63,492.42 349.17,493.18 350.71,493.93 352.24,494.68 353.78,495.42 355.32,496.15 356.85,496.88 358.39,497.61 359.93,498.33 361.46,499.04 363,499.75 364.54,500.46 366.07,501.16 367.61,501.85 369.15,502.54 370.69,503.23 372.22,503.91 373.76,504.59 375.3,505.5 376.83,504 378.37,504.4 379.91,504 381.44,504.6 382.98,504.2 384.52,504.9 386.06,504.3 387.59,505.2 389.13,504.6 390.67,504.9 392.2,503.7 393.74,503.4 395.28,504 396.81,504.4 398.35,504.1 399.89,504.6 401.43,504 402.96,504.2 404.5,503.6" fill="none" stroke="#1f77b4" stroke-width="1.15" stroke-linejoin="round" stroke-linecap="square" clip-path="url(#clipf)"/>
<polyline points="318.43,420.58 319.97,420.33 321.5,420.08 323.04,419.82 324.58,419.57 326.11,419.66 327.65,419.89 329.19,420.11 330.72,420.04 332.26,419.79 333.8,419.53 335.34,419.27 336.87,419.01 338.41,418.75 339.95,418.5 341.48,418.24 343.02,418.15 344.56,418.24 346.09,418.34 347.63,418.44 349.17,418.55 350.71,418.38 352.24,417.97 353.78,417.55 355.32,417.55 356.85,418.16 358.39,418.77 359.93,419.38 361.46,419.99 363,420.6 364.54,421.22 366.07,421.77 367.61,422.29 369.15,422.81 370.69,423.33 372.22,423.86 373.76,424.38 375.3,424.93 376.83,425.61 378.37,426.3 379.91,426.98 381.44,427.66 382.98,428.34 384.52,429.02 386.06,429.71 387.59,430.39 389.13,431.07 390.67,431.75 392.2,432.43 393.74,433.12 395.28,433.8 396.81,434.48 398.35,435.16 399.89,435.84 401.43,436.52 402.96,437.21 404.5,437.8" fill="none" stroke="#ff7f0e" stroke-width="1.15" stroke-linejoin="round" stroke-linecap="square" clip-path="url(#clipf)"/>
<polyline points="252.34,431.46 253.87,431.21 255.41,430.95 256.95,430.7 258.49,430.45 260.02,430.2 261.56,429.94 263.1,429.69 264.63,429.44 266.17,429.18 267.71,428.93 269.24,428.68 270.78,428.42 272.32,428.17 273.86,427.92 275.39,427.67 276.93,427.41 278.47,427.16 280,426.91 281.54,426.65 283.08,426.4 284.61,426.15 286.15,425.89 287.69,425.64 289.23,425.39 290.76,425.14 292.3,424.88 293.84,424.63 295.37,424.38 296.91,424.12 298.45,423.87 299.98,423.62 301.52,423.36 303.06,423.11 304.6,422.86 306.13,422.61 307.67,422.35 309.21,422.1 310.74,421.85 312.28,421.59 313.82,421.34 315.35,421.09 316.89,420.83 318.43,420.58 319.97,420.33 321.5,420.08 323.04,419.82 324.58,419.57 326.11,419.34 327.65,419.12 329.19,418.9 330.72,418.68 332.26,418.46 333.8,418.24 335.34,418.01 336.87,417.79 338.41,417.57 339.95,417.35 341.48,417.23 343.02,417.32 344.56,417.42 346.09,418.04 347.63,418.59 349.17,419.05 350.71,419.53 352.24,420.01 353.78,420.49 355.32,420.42 356.85,420.79 358.39,421.36 359.93,421.93 361.46,422.49 363,423.06 364.54,423.63 366.07,424.23 367.61,424.84 369.15,425.46 370.69,426.07 372.22,426.69 373.76,427.3 375.3,427.93 376.83,428.59 378.37,429.25 379.91,429.91 381.44,430.57 382.98,431.23 384.52,431.89 386.06,432.55 387.59,433.22 389.13,433.88 390.67,434.54 392.2,435.2 393.74,435.86 395.28,436.52 396.81,437.18 398.35,437.84 399.89,438.5 401.43,439.16 402.96,439.83 404.5,440.4" fill="none" stroke="#2ca02c" stroke-width="1.15" stroke-linejoin="round" stroke-linecap="square" clip-path="url(#clipf)"/>
<polyline points="252.34,433.86 253.87,433.59 255.41,433.31 256.95,433.04 258.49,432.77 260.02,432.49 261.56,432.22 263.1,431.95 264.63,431.68 266.17,431.4 267.71,431.13 269.24,430.86 270.78,430.58 272.32,430.31 273.86,430.04 275.39,429.77 276.93,429.49 278.47,429.22 280,428.95 281.54,428.68 283.08,428.4 284.61,428.13 286.15,427.86 287.69,427.58 289.23,427.31 290.76,427.04 292.3,426.77 293.84,426.49 295.37,426.22 296.91,425.95 298.45,425.68 299.98,425.4 301.52,425.16 303.06,424.91 304.6,424.66 306.13,424.42 307.67,424.17 309.21,423.93 310.74,423.68 312.28,423.44 313.82,423.19 315.35,422.94 316.89,422.7 318.43,422.45 319.97,422.21 321.5,421.96 323.04,421.71 324.58,421.47 326.11,421.25 327.65,421.03 329.19,420.82 330.72,420.61 332.26,420.39 333.8,420.18 335.34,419.97 336.87,419.75 338.41,419.54 339.95,419.33 341.48,419.11 343.02,418.91 344.56,418.71 346.09,418.52 347.63,418.15 349.17,417.54 350.71,416.93 352.24,416.32 353.78,415.71 355.32,415.05 356.85,414.39 358.39,413.73 359.93,413.07 361.46,412.42 363,411.76 364.54,411.1 366.07,410.22 367.61,409.25 369.15,408.29 370.69,407.32 372.22,406.35 373.76,405.38 375.3,404.46 376.83,403.74 378.37,403.03 379.91,402.31 381.44,401.59 382.98,400.88 384.52,400.16 386.06,399.44 387.59,398.72 389.13,398.01 390.67,397.31 392.2,396.64 393.74,395.98 395.28,395.31 396.81,394.65 398.35,393.98 399.89,393.31 401.43,392.65 402.96,391.98 404.5,391.4" fill="none" stroke="#9467bd" stroke-width="1.15" stroke-linejoin="round" stroke-linecap="square" clip-path="url(#clipf)"/>
<rect x="247" y="472.6" width="49.7" height="36" rx="1" fill="#fff" fill-opacity="0.85" stroke="#d6d6d6" stroke-width="0.6"/>
<line x1="248.7" y1="476.7" x2="258.8" y2="476.7" stroke="#1f77b4" stroke-width="1.15"/>
<text transform="translate(261.8,478.5) rotate(0.05) scale(0.1)" font-size="54" text-anchor="start" textLength="322" lengthAdjust="spacingAndGlyphs">weight of task 1</text>
<line x1="248.7" y1="483.62" x2="258.8" y2="483.62" stroke="#ff7f0e" stroke-width="1.15"/>
<text transform="translate(261.8,485.42) rotate(0.05) scale(0.1)" font-size="54" text-anchor="start" textLength="322" lengthAdjust="spacingAndGlyphs">weight of task 2</text>
<line x1="248.7" y1="490.54" x2="258.8" y2="490.54" stroke="#2ca02c" stroke-width="1.15"/>
<text transform="translate(261.8,492.34) rotate(0.05) scale(0.1)" font-size="54" text-anchor="start" textLength="322" lengthAdjust="spacingAndGlyphs">weight of task 3</text>
<line x1="248.7" y1="497.46" x2="258.8" y2="497.46" stroke="#d62728" stroke-width="1.15"/>
<text transform="translate(261.8,499.26) rotate(0.05) scale(0.1)" font-size="54" text-anchor="start" textLength="322" lengthAdjust="spacingAndGlyphs">weight of task 4</text>
<line x1="248.7" y1="504.38" x2="258.8" y2="504.38" stroke="#9467bd" stroke-width="1.15"/>
<text transform="translate(261.8,506.18) rotate(0.05) scale(0.1)" font-size="54" text-anchor="start" textLength="322" lengthAdjust="spacingAndGlyphs">weight of task 5</text>
</g></svg>
</body></html>
